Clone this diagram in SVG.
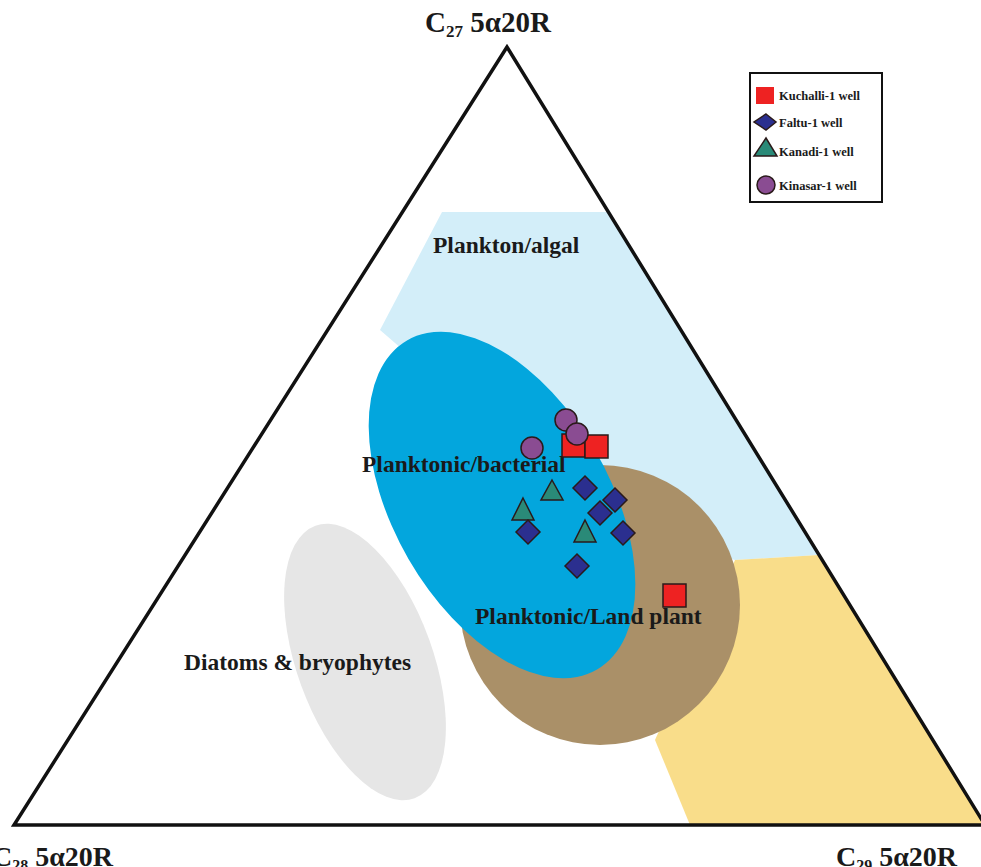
<svg xmlns="http://www.w3.org/2000/svg" width="981" height="867" viewBox="0 0 981 867">
<style>
text{font-family:"Liberation Serif",serif;font-weight:bold;fill:#1a1a1a}
.lab{font-size:23.5px}
.leg{font-size:12.5px}
.pt{stroke:#2a1a1a;stroke-width:1.5}
.sq{fill:#ee2222}.di{fill:#2b2f8f}.tr{fill:#2a8a78}.ci{fill:#8a4c92}
</style>
<rect width="981" height="867" fill="#fff"/>
<g id="regions">
<polygon points="442,212,608,212,819,555,735,560,600,520,380,330" fill="#d3eef9"/>
<polygon points="819,555,985,825,690,825,655,740,735,560" fill="#f9dd8a"/>
<ellipse cx="365" cy="662" rx="68" ry="145" transform="rotate(-20 365 662)" fill="#e6e6e6"/>
<circle cx="600" cy="605" r="140" fill="#aa9068"/>
<ellipse cx="502" cy="505" rx="108" ry="190" transform="rotate(-30 502 505)" fill="#03a6dd"/>
</g>
<g id="triangle"><polygon points="507,47,14,825,985,825" fill="none" stroke="#111" stroke-width="3.5"/></g>
<g id="labels">
<text x="425" y="32" font-size="29">C<tspan font-size="17" dy="5">27</tspan><tspan dy="-5"> 5α20R</tspan></text>
<text x="-8" y="866" font-size="28">C<tspan font-size="16" dy="5">28</tspan><tspan dy="-5"> 5α20R</tspan></text>
<text x="836" y="866" font-size="28">C<tspan font-size="16" dy="5">29</tspan><tspan dy="-5"> 5α20R</tspan></text>
<text class="lab" x="433" y="253">Plankton/algal</text>
<text class="lab" x="362" y="472">Planktonic/bacterial</text>
<text class="lab" x="475" y="624">Planktonic/Land plant</text>
<text class="lab" x="184" y="670">Diatoms &amp; bryophytes</text>
</g>
<g id="points">
<circle class="pt ci" cx="566" cy="420" r="11"/>
<circle class="pt ci" cx="532" cy="448" r="11"/>
<rect class="pt sq" x="562" y="434" width="23" height="23"/>
<rect class="pt sq" x="585" y="435" width="23" height="23"/>
<circle class="pt ci" cx="577" cy="434" r="11"/>
<rect class="pt sq" x="663" y="584" width="23" height="23"/>
<polygon class="pt tr" points="552,480,563,500,541,500"/>
<polygon class="pt tr" points="523,498,534,520,512,520"/>
<polygon class="pt tr" points="585,520,596,542,574,542"/>
<polygon class="pt di" points="585,476,597,488,585,500,573,488"/>
<polygon class="pt di" points="615,488,627,500,615,512,603,500"/>
<polygon class="pt di" points="600,501,612,513,600,525,588,513"/>
<polygon class="pt di" points="528,520,540,532,528,544,516,532"/>
<polygon class="pt di" points="623,521,635,533,623,545,611,533"/>
<polygon class="pt di" points="577,554,589,566,577,578,565,566"/>
</g>
<g id="legend">
<rect x="750" y="73" width="132" height="129" fill="#fff" stroke="#111" stroke-width="2"/>
<rect class="sq" x="756" y="87" width="18" height="17"/>
<text class="leg" x="779" y="100">Kuchalli-1 well</text>
<polygon class="pt di" points="766,114,776,122,766,130,754,122"/>
<text class="leg" x="779" y="127">Faltu-1 well</text>
<polygon class="pt tr" points="766,138,777,156,754,156"/>
<text class="leg" x="779" y="156">Kanadi-1 well</text>
<circle class="pt ci" cx="766" cy="185" r="9"/>
<text class="leg" x="779" y="190">Kinasar-1 well</text>
</g>
</svg>
